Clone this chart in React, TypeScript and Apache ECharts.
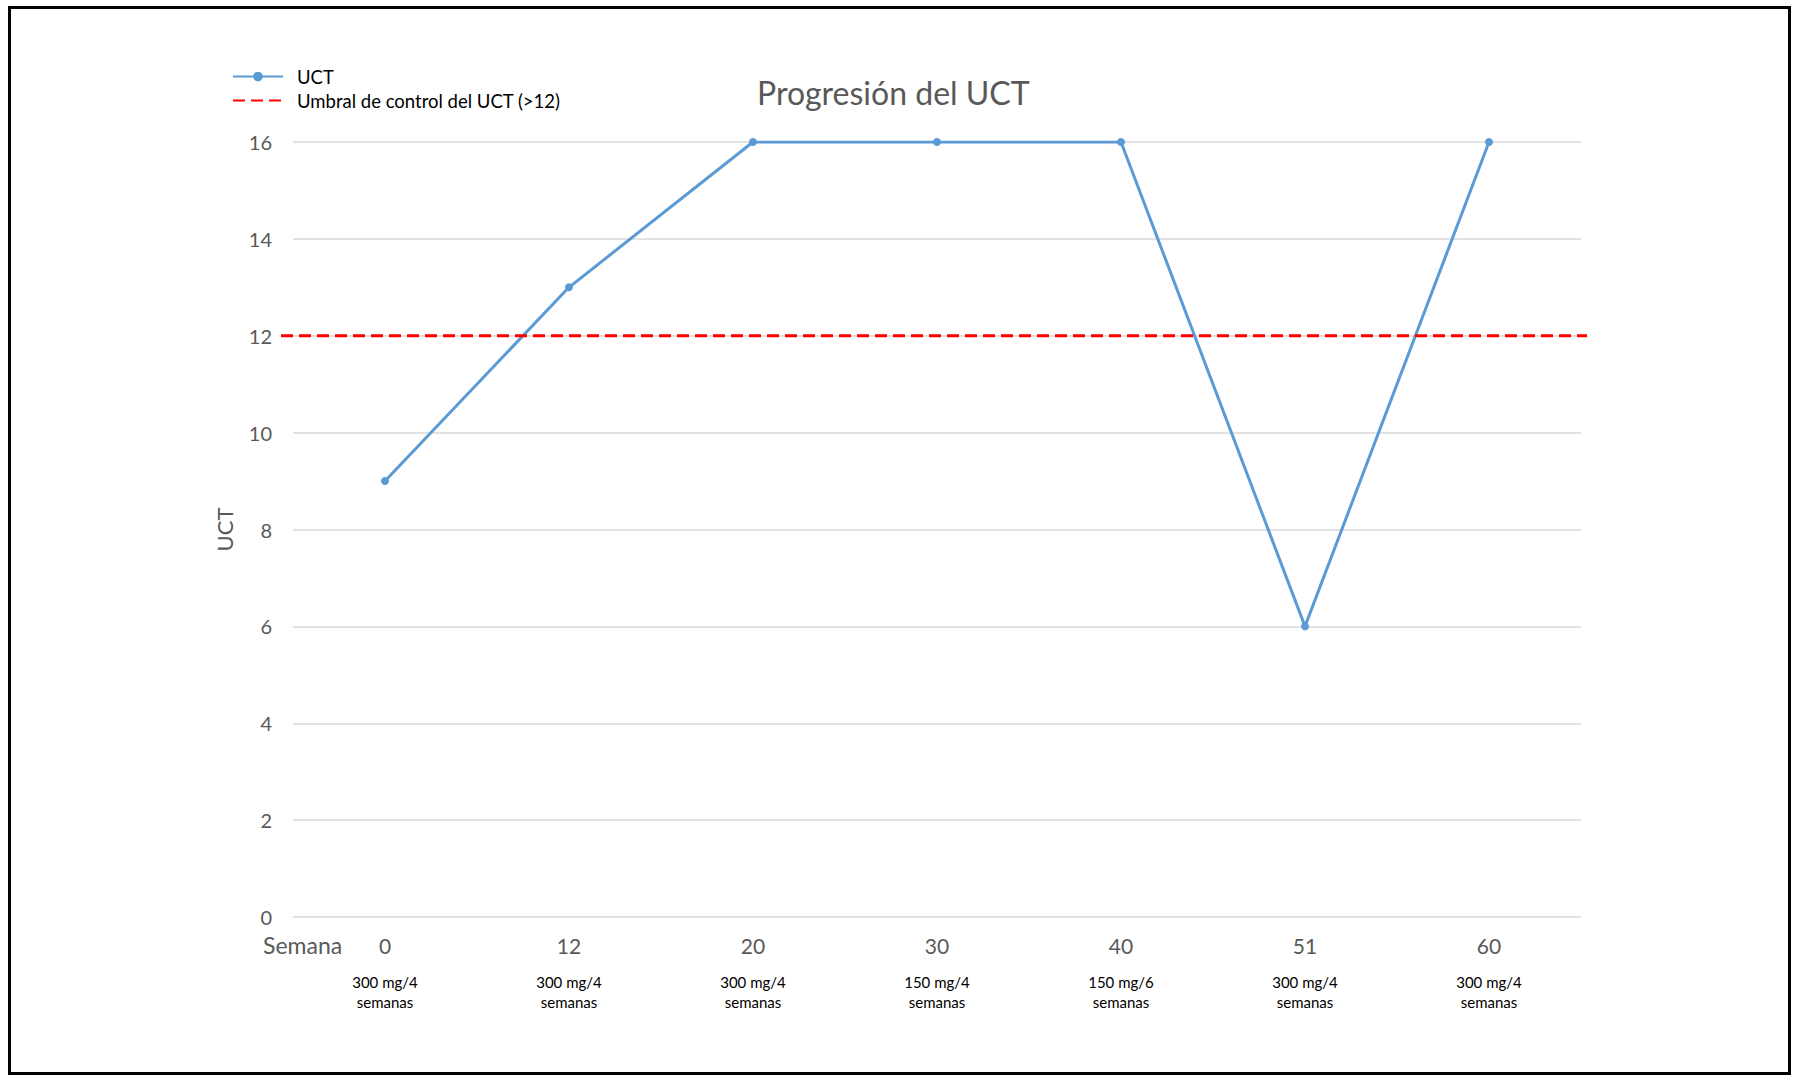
import React, { useEffect, useRef } from "react";
import * as echarts from "echarts";

// Weeks of treatment and the UCT score recorded at each visit
const weeks = ["0", "12", "20", "30", "40", "51", "60"];
const uctValues = [9, 13, 16, 16, 16, 6, 16];
// Dose schedule in force at each visit
const doseAmounts = ["300 mg/4", "300 mg/4", "300 mg/4", "150 mg/4", "150 mg/6", "300 mg/4", "300 mg/4"];
const doseUnit = "semanas";
// Control threshold for UCT
const threshold = 12;
const yTicks = { min: 0, max: 16, interval: 2 };

const FONT = "Lato, 'Open Sans', sans-serif";
const GREY = "#595959";

export default function App() {
  const ref = useRef<HTMLDivElement>(null);

  useEffect(() => {
    document.body.style.margin = "0";
    const chart = echarts.init(ref.current!, null, { renderer: "svg" });
    chart.setOption({
      animation: false,
      backgroundColor: "#ffffff",
      textStyle: { fontFamily: FONT },
      title: {
        text: "Progresión del UCT",
        left: 752,
        top: 71,
        textStyle: { fontSize: 32, fontWeight: "normal", color: GREY, fontFamily: FONT },
      },
      legend: {
        orient: "vertical",
        left: 227,
        top: 62,
        itemWidth: 50,
        itemHeight: 12,
        itemGap: 5,
        textStyle: { fontSize: 18.5, color: "#000", fontFamily: FONT, padding: [0, 0, 0, 9] },
        data: [
          { name: "UCT" },
          { name: "Umbral de control del UCT (>12)", itemStyle: { opacity: 0 } },
        ],
      },
      grid: [
        { left: 293, right: 219, top: 142, bottom: 166 },
        { left: 281, right: 213, top: 142, bottom: 166 },
      ],
      xAxis: [
        {
          type: "category",
          gridIndex: 0,
          data: weeks,
          axisLine: { show: false },
          axisTick: { show: false },
          axisLabel: {
            margin: 17,
            interval: 0,
            formatter: (v: string, i: number) =>
              `{w|${v}}\n{g|}\n{d|${doseAmounts[i]}}\n{d|${doseUnit}}`,
            rich: {
              w: { fontSize: 21, lineHeight: 23, color: GREY, fontFamily: FONT, align: "center" },
              g: { lineHeight: 15, align: "center" },
              d: { fontSize: 15, lineHeight: 20, color: "#000", fontFamily: FONT, align: "center" },
            },
          },
        },
        { type: "value", gridIndex: 1, min: 0, max: 1, show: false },
      ],
      yAxis: [
        {
          type: "value",
          gridIndex: 0,
          min: yTicks.min,
          max: yTicks.max,
          interval: yTicks.interval,
          name: "UCT",
          nameLocation: "middle",
          nameGap: 58,
          nameRotate: 90,
          nameTextStyle: { fontSize: 22, color: GREY, fontFamily: FONT },
          axisLine: { show: false },
          axisTick: { show: false },
          axisLabel: { fontSize: 20, color: GREY, margin: 21, fontFamily: FONT },
          splitLine: { lineStyle: { color: "#D9D9D9", width: 1.5 } },
        },
        { type: "value", gridIndex: 1, min: yTicks.min, max: yTicks.max, show: false },
      ],
      series: [
        {
          name: "UCT",
          type: "line",
          xAxisIndex: 0,
          yAxisIndex: 0,
          data: uctValues,
          symbol: "circle",
          symbolSize: 8,
          itemStyle: { color: "#5B9BD5" },
          lineStyle: { color: "#5B9BD5", width: 3 },
          z: 2,
        },
        {
          name: "Umbral de control del UCT (>12)",
          type: "line",
          xAxisIndex: 1,
          yAxisIndex: 1,
          data: [
            [0, threshold],
            [1, threshold],
          ],
          symbol: "none",
          itemStyle: { color: "#FF0000" },
          lineStyle: { color: "#FF0000", width: 3, type: [12, 6] },
          z: 3,
        },
      ],
      graphic: [
        {
          type: "text",
          left: 263,
          top: 933,
          style: { text: "Semana", fontSize: 23, fill: GREY, fontFamily: FONT },
        },
        {
          type: "rect",
          shape: { x: 9.5, y: 7.5, width: 1780, height: 1066 },
          style: { fill: "none", stroke: "#000", lineWidth: 3 },
          silent: true,
        },
      ],
    });
    return () => chart.dispose();
  }, []);

  return <div ref={ref} style={{ position: "absolute", left: 0, top: 0, width: 1800, height: 1083 }} />;
}
